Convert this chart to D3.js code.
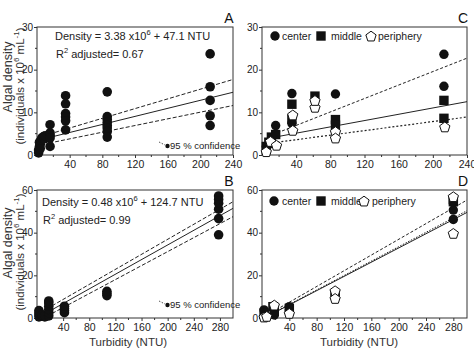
<!DOCTYPE html>
<html><head><meta charset="utf-8">
<script src="https://cdn.jsdelivr.net/npm/d3@7"></script>
<style>body{margin:0;background:#fff}svg{display:block;font-family:"Liberation Sans",Arial,sans-serif}</style>
</head><body>
<svg id="c" width="474" height="351"></svg>
<script>
// ---------- DATA ----------
const xTicksTop = [40, 80, 120, 160, 200, 240];
const xTicksBottom = [40, 80, 120, 160, 200, 240, 280];
const yTicksTop = [0, 10, 20, 30];
const yTicksBottom = [0, 20, 40, 60];

// Panel A (all sites pooled)
const aX = [2, 2, 3, 3, 4, 4, 5, 6, 8, 9, 10, 16, 16, 16, 16, 16, 35, 35, 35, 35, 35, 35, 86, 86, 86, 86, 86, 86, 86, 86, 212, 212, 212, 212, 212];
const aY = [0.5, 1.2, 2.0, 3.0, 2.5, 1.5, 3.5, 4.0, 4.3, 3.8, 4.5, 7.1, 5.2, 4.6, 4.0, 2.0, 13.9, 12.0, 9.7, 8.9, 8.0, 5.9, 14.8, 9.0, 8.3, 7.6, 6.9, 6.3, 5.5, 4.2, 23.7, 16.0, 12.8, 9.2, 6.9];
const aFitX = [15, 240];
const aFit = [4.1, 14.7];
const aCiHi = [4.9, 17.7];
const aCiLo = [2.8, 11.6];

// Panel B
const bX = [3, 3, 3, 3, 8, 8, 12, 12, 18, 18, 18, 18, 18, 18, 42, 42, 42, 42, 107, 107, 107, 278, 278, 278, 278, 278, 278];
const bY = [0.5, 1.5, 2.5, 3.5, 0.8, 1.5, 0.5, 1.2, 1.0, 2.5, 4.0, 5.5, 7.0, 8.0, 2.5, 3.5, 4.5, 5.5, 10.5, 11.5, 12.5, 39.0, 46.6, 51.0, 53.8, 55.6, 57.2];
const bFitX = [15, 300];
const bFit = [2.5, 51.4];
const bCiHi = [4.3, 54.5];
const bCiLo = [0.8, 47.5];

// Panel C (by site)
const sites = ["center", "middle", "periphery"];
const cCenterX = [5, 8, 10, 16, 35, 35, 86, 213, 213];
const cCenterY = [2.0, 2.5, 3.2, 6.9, 7.4, 14.4, 14.3, 16.1, 23.6];
const cMiddleX = [5, 8, 11, 16, 35, 35, 62, 86, 86, 213, 213];
const cMiddleY = [2.0, 3.0, 4.2, 4.8, 8.4, 11.9, 13.8, 8.3, 7.0, 12.8, 8.6];
const cPeriphX = [5, 10, 17, 36, 36, 62, 62, 86, 86, 214];
const cPeriphY = [0.8, 3.2, 2.3, 5.8, 9.4, 11.2, 12.8, 5.5, 4.0, 6.6];
const cFitX = [18, 240];
const cFitCenter = [5.2, 22.7];
const cFitMiddle = [4.3, 12.5];
const cFitPeriph = [3.0, 8.9];

// Panel D (by site)
const dCenterX = [3, 5, 18, 18, 40, 40, 107, 280, 280];
const dCenterY = [3.8, 1.4, 2.4, 1.4, 5.3, 3.8, 10.8, 50.6, 46.2];
const dMiddleX = [3, 16, 18, 40, 107, 280, 280];
const dMiddleY = [2.3, 5.3, 3.0, 4.5, 11.2, 54.5, 55.5];
const dPeriphX = [3, 7, 18, 40, 107, 107, 280, 280];
const dPeriphY = [0.5, 0.8, 6.1, 2.2, 12.8, 9.2, 56.9, 39.7];
const dFitX = [8, 300];
const dFitDash = [1.5, 55.3];
const dFitSolid = [0.8, 49.5];
const dFitDot = [1.0, 50.3];

// Text content
const eqIntercepts = ["3.38", "0.48"];
const eqSlopes = ["47.1", "124.7"];
const eqR2 = ["0.67", "0.99"];

// ---------- DRAW ----------
const svg = d3.select("#c");
const TXT = "#222", AX = "#333";

function panel(o) {
  const x = d3.scaleLinear().domain(o.xd).range([o.l, o.r]);
  const y = d3.scaleLinear().domain(o.yd).range([o.b, o.t]);
  const g = svg.append("g");
  g.append("rect").attr("x", o.l).attr("y", o.t).attr("width", o.r - o.l).attr("height", o.b - o.t)
    .attr("fill", "none").attr("stroke", AX).attr("stroke-width", 1);
  const ax = g.append("g").attr("transform", `translate(0,${o.b})`)
    .call(d3.axisBottom(x).tickValues(o.xt).tickSize(3).tickPadding(2).tickFormat(d3.format("d")));
  const ay = g.append("g").attr("transform", `translate(${o.l},0)`)
    .call(d3.axisLeft(y).tickValues(o.yt).tickSize(3).tickPadding(1).tickFormat(d3.format("d")));
  [ax, ay].forEach(a => {
    a.select(".domain").remove();
    a.selectAll("line").attr("stroke", AX);
    a.selectAll("text").attr("fill", TXT).attr("font-size", 10.5).attr("font-family", "Liberation Sans, Arial, sans-serif");
  });
  ay.selectAll("text").attr("font-size", 10);
  ax.selectAll("text").attr("dy", "0.8em");
  // minor ticks
  const mx = [];
  for (let v = o.xd[0] + o.xm; v < o.xd[1]; v += o.xm) if (!o.xt.includes(v)) mx.push(v);
  g.selectAll(null).data(mx).join("line").attr("x1", d => x(d)).attr("x2", d => x(d))
    .attr("y1", o.b).attr("y2", o.b + 2).attr("stroke", AX);
  const my = [];
  for (let v = o.yd[0] + o.ym; v < o.yd[1]; v += o.ym) if (!o.yt.includes(v)) my.push(v);
  g.selectAll(null).data(my).join("line").attr("y1", d => y(d)).attr("y2", d => y(d))
    .attr("x1", o.l).attr("x2", o.l - 2).attr("stroke", AX);
  // letter
  g.append("text").attr("x", o.r - 4).attr("y", o.t - 4).attr("text-anchor", "middle")
    .attr("font-size", 14).attr("fill", "#111").text(o.letter);
  return { x, y, g };
}

function fitLine(p, xs, ys, dash, w) {
  const line = d3.line().x((d, i) => p.x(xs[i])).y(d => p.y(d));
  p.g.append("path").attr("d", line(ys)).attr("fill", "none").attr("stroke", "#222")
    .attr("stroke-width", w || 1).attr("stroke-dasharray", dash || null);
}

function pentagon(r) {
  const pts = d3.range(5).map(i => {
    const a = -Math.PI / 2 + i * 2 * Math.PI / 5;
    return [r * Math.cos(a), r * Math.sin(a)];
  });
  return "M" + pts.map(p => p.join(",")).join("L") + "Z";
}
function marker(g, kind, cx, cy) {
  if (kind === "center") g.append("circle").attr("cx", cx).attr("cy", cy).attr("r", 4.7).attr("fill", "#111");
  else if (kind === "middle") g.append("rect").attr("x", cx - 4.7).attr("y", cy - 4.7).attr("width", 9.4).attr("height", 9.4).attr("fill", "#111");
  else g.append("path").attr("d", pentagon(5.4)).attr("transform", `translate(${cx},${cy + 0.6})`)
    .attr("fill", "#fff").attr("stroke", "#111").attr("stroke-width", 1);
}
function scatter(p, xs, ys, kind) {
  xs.forEach((v, i) => marker(p.g, kind, p.x(v), p.y(ys[i])));
}

// Panel A
const A = panel({ l: 37, r: 233, t: 27, b: 155, xd: [0, 240], yd: [0, 30], xt: xTicksTop, yt: yTicksTop, xm: 20, ym: 5, letter: "A" });
fitLine(A, aFitX, aCiHi, "4,2");
fitLine(A, aFitX, aCiLo, "4,2");
fitLine(A, aFitX, aFit, null);
aX.forEach((v, i) => A.g.append("circle").attr("cx", A.x(v)).attr("cy", A.y(aY[i])).attr("r", 4.8).attr("fill", "#111"));

// Panel B
const B = panel({ l: 37, r: 233, t: 190, b: 318, xd: [0, 300], yd: [0, 60], xt: xTicksBottom, yt: yTicksBottom, xm: 20, ym: 10, letter: "B" });
fitLine(B, bFitX, bCiHi, "4,2");
fitLine(B, bFitX, bCiLo, "4,2");
fitLine(B, bFitX, bFit, null);
bX.forEach((v, i) => B.g.append("circle").attr("cx", B.x(v)).attr("cy", B.y(bY[i])).attr("r", 4.8).attr("fill", "#111"));

// Panel C
const C = panel({ l: 262, r: 467, t: 27, b: 155, xd: [0, 240], yd: [0, 30], xt: xTicksTop, yt: yTicksTop, xm: 20, ym: 5, letter: "C" });
fitLine(C, cFitX, cFitCenter, "3,2");
fitLine(C, cFitX, cFitMiddle, null);
fitLine(C, cFitX, cFitPeriph, "2,2", 1.2);
scatter(C, cCenterX, cCenterY, "center");
scatter(C, cMiddleX, cMiddleY, "middle");
scatter(C, cPeriphX, cPeriphY, "periphery");

// Panel D
const D = panel({ l: 262, r: 467, t: 190, b: 318, xd: [0, 300], yd: [0, 60], xt: xTicksBottom, yt: yTicksBottom, xm: 20, ym: 10, letter: "D" });
fitLine(D, dFitX, dFitDash, "3,2");
fitLine(D, dFitX, dFitDot, "1.5,1.5");
fitLine(D, dFitX, dFitSolid, null);
scatter(D, dCenterX, dCenterY, "center");
scatter(D, dMiddleX, dMiddleY, "middle");
scatter(D, dPeriphX, dPeriphY, "periphery");

// Legends for C and D
function siteLegend(cy, pos) {
  sites.forEach((s, i) => {
    marker(svg, s, pos[i][0], cy);
    svg.append("text").attr("x", pos[i][1]).attr("y", cy + 3.8).attr("font-size", 10.5).attr("fill", TXT).text(s);
  });
}
siteLegend(36, [[275, 282], [321, 331], [371, 378]]);
siteLegend(201, [[274, 282], [321, 331], [364, 372]]);

// Equations
function equation(x0, y0, intercept, slope, r2) {
  const t = svg.append("text").attr("x", x0).attr("y", y0).attr("font-size", 11).attr("fill", TXT);
  t.append("tspan").text(`Density = ${intercept} x10`);
  t.append("tspan").attr("font-size", 7.5).attr("dy", -5).text("6");
  t.append("tspan").attr("dy", 5).text(` + ${slope} NTU`);
  const t2 = svg.append("text").attr("x", x0 + 1).attr("y", y0 + 18).attr("font-size", 11).attr("fill", TXT);
  t2.append("tspan").text("R");
  t2.append("tspan").attr("font-size", 7.5).attr("dy", -5).text("2");
  t2.append("tspan").attr("dy", 5).text(` adjusted= ${r2}`);
}
equation(55, 40, eqIntercepts[0], eqSlopes[0], eqR2[0]);
equation(42, 206, eqIntercepts[1], eqSlopes[1], eqR2[1]);

// 95% confidence legends
function ciLegend(x0, y0) {
  svg.append("line").attr("x1", x0 - 11).attr("x2", x0 - 5).attr("y1", y0 - 6).attr("y2", y0 - 3)
    .attr("stroke", "#555").attr("stroke-dasharray", "1.5,1.5");
  svg.append("circle").attr("cx", x0 - 2.5).attr("cy", y0 - 2).attr("r", 2.2).attr("fill", "#111");
  svg.append("text").attr("x", x0).attr("y", y0 + 1).attr("font-size", 9.5).attr("fill", TXT).text("95 % confidence");
}
ciLegend(170, 148);
ciLegend(170, 307);

// Y axis titles
function yTitle(cy) {
  svg.append("text").attr("transform", `translate(12,${cy}) rotate(-90)`).attr("text-anchor", "middle")
    .attr("font-size", 12.5).attr("fill", "#333").text("Algal density");
  const t = svg.append("text").attr("transform", `translate(23.5,${cy + 9}) rotate(-90)`).attr("text-anchor", "middle")
    .attr("font-size", 11.5).attr("fill", "#333");
  t.append("tspan").text("(individuals x 10");
  t.append("tspan").attr("font-size", 8).attr("dy", -5).text("6");
  t.append("tspan").attr("dy", 5).text(" mL");
  t.append("tspan").attr("font-size", 8).attr("dy", -5).text("-1");
  t.append("tspan").attr("dy", 5).text(")");
}
yTitle(77);
yTitle(243);

// X axis titles
[128, 359].forEach(cx => svg.append("text").attr("x", cx).attr("y", 346).attr("text-anchor", "middle")
  .attr("font-size", 11.5).attr("fill", "#333").text("Turbidity (NTU)"));
</script>
</body></html>
